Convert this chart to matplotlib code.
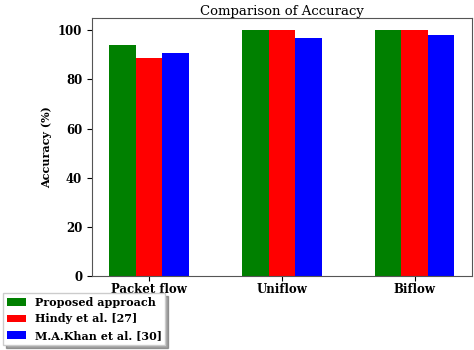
import numpy as np
import matplotlib
matplotlib.use("Agg")
import matplotlib.pyplot as plt

# data
categories = ["Packet flow", "Uniflow", "Biflow"]
proposed = [93.8, 100, 100]
hindy = [88.6, 100, 100]
khan = [90.6, 97.0, 98.1]
series_names = ["Proposed approach", "Hindy et al. [27]", "M.A.Khan et al. [30]"]
colors = ["green", "red", "blue"]

plt.rcParams['font.family'] = ['DejaVu Serif']

fig = plt.figure(figsize=(4.74, 3.5), dpi=100)
ax = fig.add_axes([0.194, 0.211, 0.801, 0.738])

x = np.arange(len(categories))
w = 0.2
for i, (vals, name, c) in enumerate(zip([proposed, hindy, khan], series_names, colors)):
    ax.bar(x + (i - 1) * w, vals, w, color=c, label=name)

ax.set_xticks(x)
ax.set_xticklabels(categories, fontweight='bold', fontsize=8.5)
ax.set_yticks([0, 20, 40, 60, 80, 100])
ax.set_yticklabels(["0", "20", "40", "60", "80", "100"], fontweight='bold', fontsize=8.5)
ax.tick_params(axis='x', pad=1.5)
ax.set_ylabel("Accuracy (%)", fontweight='bold', fontsize=8)
ax.set_title("Comparison of Accuracy", fontsize=9.5, pad=2)
for s in ax.spines.values():
    s.set_color('#555555')

# legend sits below the axes, bottom-left of the figure
leg = fig.legend(loc='upper left', bbox_to_anchor=(0.006, 0.163), shadow=True,
                 prop={'weight': 'bold', 'size': 8}, fancybox=False,
                 borderaxespad=0, handlelength=1.7, labelspacing=0.5,
                 borderpad=0.35)
leg.set_zorder(5)

fig.savefig("out.png", dpi=100)
